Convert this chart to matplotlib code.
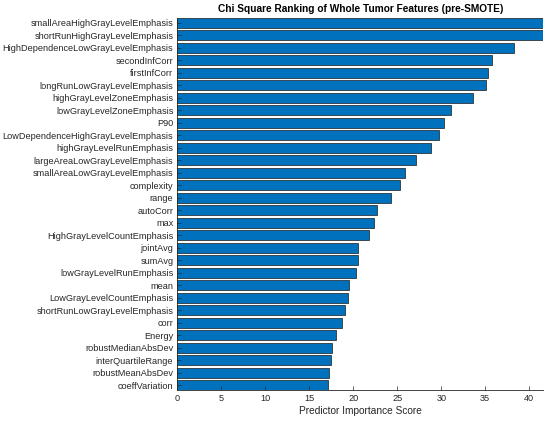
import matplotlib.pyplot as plt
import numpy as np

plt.rcParams['font.family'] = ['Liberation Sans', 'DejaVu Sans']

# features ranked by chi square score (top to bottom)
features = [
    "smallAreaHighGrayLevelEmphasis", "shortRunHighGrayLevelEmphasis",
    "HighDependenceLowGrayLevelEmphasis", "secondInfCorr", "firstInfCorr",
    "longRunLowGrayLevelEmphasis", "highGrayLevelZoneEmphasis",
    "lowGrayLevelZoneEmphasis", "P90", "LowDependenceHighGrayLevelEmphasis",
    "highGrayLevelRunEmphasis", "largeAreaLowGrayLevelEmphasis",
    "smallAreaLowGrayLevelEmphasis", "complexity", "range", "autoCorr", "max",
    "HighGrayLevelCountEmphasis", "jointAvg", "sumAvg",
    "lowGrayLevelRunEmphasis", "mean", "LowGrayLevelCountEmphasis",
    "shortRunLowGrayLevelEmphasis", "corr", "Energy", "robustMedianAbsDev",
    "interQuartileRange", "robustMeanAbsDev", "coeffVariation",
]
scores = [
    43.0, 42.5, 38.3, 35.8, 35.3, 35.1, 33.6, 31.1, 30.3, 29.7,
    28.8, 27.1, 25.9, 25.3, 24.3, 22.7, 22.3, 21.75, 20.5, 20.5,
    20.27, 19.5, 19.4, 19.1, 18.75, 18.0, 17.55, 17.46, 17.2, 17.12,
]

fig = plt.figure(figsize=(5.5, 4.22), dpi=100)
ax = fig.add_axes([0.3227, 0.0758, 0.6651, 0.8827])

pos = np.arange(1, len(features) + 1)
ax.barh(pos, scores, height=0.8, color="#0072BD", edgecolor="#1a1a1a", linewidth=0.5)

ax.set_ylim(30.4, 0.6)
ax.set_xlim(0, 41.6)
ax.set_yticks(pos)
ax.set_yticklabels(features)
ax.set_xticks(np.arange(0, 41, 5))

for side in ["top", "right"]:
    ax.spines[side].set_visible(False)
for side in ["left", "bottom"]:
    ax.spines[side].set_color("#262626")
    ax.spines[side].set_linewidth(0.6)

ax.tick_params(axis="both", direction="in", length=3, width=0.5,
               colors="#262626", labelsize=6.6, pad=3)
ax.set_xlabel("Predictor Importance Score", fontsize=7.3, color="#262626", labelpad=2)
ax.set_title("Chi Square Ranking of Whole Tumor Features (pre-SMOTE)",
             fontsize=7.3, fontweight="bold", pad=4)

fig.savefig("out.png", dpi=100)
